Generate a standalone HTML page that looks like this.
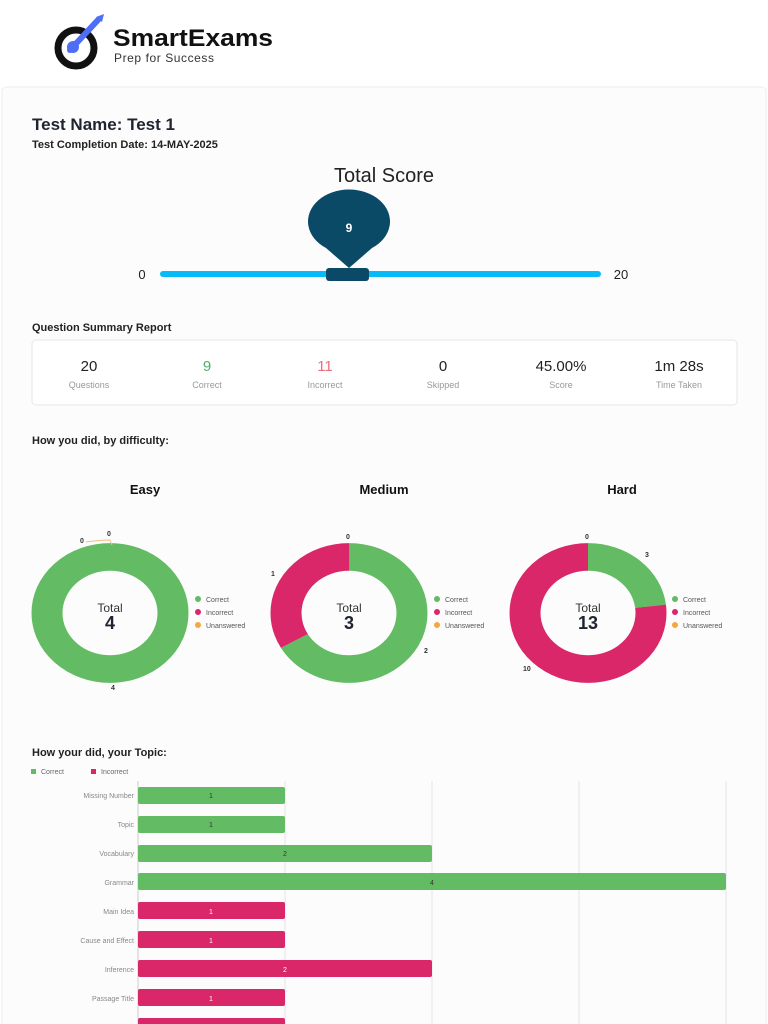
<!DOCTYPE html>
<html><head><meta charset="utf-8"><style>
html,body{margin:0;padding:0;background:#fff;width:768px;height:1024px;overflow:hidden;font-family:"Liberation Sans",sans-serif}
</style></head><body>
<svg width="768" height="1024" viewBox="0 0 768 1024" xmlns="http://www.w3.org/2000/svg" font-family="Liberation Sans, sans-serif">
<rect x="2" y="87" width="764" height="960" rx="4" fill="#fcfcfc" stroke="#eeeeee"/>
<circle cx="76" cy="48" r="18" fill="none" stroke="#111" stroke-width="7"/>
<path d="M70 50 L98 20" stroke="#4f6ef7" stroke-width="6" stroke-linecap="round"/>
<circle cx="73" cy="47" r="6" fill="#4f6ef7"/>
<path d="M96 17 l8 -3 l-2 8 z" fill="#4f6ef7"/>
<text x="113" y="46" font-size="24" font-weight="bold" fill="#111" textLength="160" lengthAdjust="spacingAndGlyphs">SmartExams</text>
<text x="114" y="62" font-size="12" fill="#333" textLength="100">Prep for Success</text>
<text x="32" y="130" font-size="17" font-weight="bold" fill="#1e2430">Test Name: Test 1</text>
<text x="32" y="148" font-size="11" font-weight="bold" fill="#222">Test Completion Date: 14-MAY-2025</text>
<text x="384" y="182" font-size="20" text-anchor="middle" fill="#222">Total Score</text>
<rect x="160" y="271" width="441" height="6" rx="3" fill="#06bbf7"/>
<text x="142" y="279" font-size="13" text-anchor="middle" fill="#222">0</text>
<text x="621" y="279" font-size="13" text-anchor="middle" fill="#222">20</text>
<path d="M349 268 L326 248 A41 32 0 1 1 372 248 Z" fill="#0b4a66"/>
<text x="349" y="232" font-size="12" font-weight="bold" text-anchor="middle" fill="#fff">9</text>
<rect x="326" y="268" width="43" height="13" rx="3" fill="#0b4a66"/>
<text x="32" y="331" font-size="11" font-weight="bold" fill="#222">Question Summary Report</text>
<rect x="32" y="340" width="705" height="65" rx="4" fill="#fff" stroke="#e6e6e6"/>
<g font-size="15" text-anchor="middle" fill="#222">
<text x="89" y="371">20</text><text x="207" y="371" fill="#4caf6a">9</text><text x="325" y="371" fill="#e8707c">11</text><text x="443" y="371">0</text><text x="561" y="371">45.00%</text><text x="679" y="371">1m 28s</text></g>
<g font-size="9" text-anchor="middle" fill="#999">
<text x="89" y="388">Questions</text><text x="207" y="388">Correct</text><text x="325" y="388">Incorrect</text><text x="443" y="388">Skipped</text><text x="561" y="388">Score</text><text x="679" y="388">Time Taken</text></g>
<text x="32" y="444" font-size="11" font-weight="bold" fill="#222">How you did, by difficulty:</text>
<g font-size="13" font-weight="bold" text-anchor="middle" fill="#111">
<text x="145" y="494">Easy</text><text x="384" y="494">Medium</text><text x="622" y="494">Hard</text></g>
<g transform="translate(110,613) scale(1,0.89)"><circle r="63" fill="none" stroke="#63bb63" stroke-width="31"/></g>
<g transform="translate(349,613) scale(1,0.89) rotate(-90)"><circle r="63" fill="none" stroke="#63bb63" stroke-width="31" stroke-dasharray="263.9 400"/><circle r="63" fill="none" stroke="#d9276a" stroke-width="31" stroke-dasharray="0 263.9 131.9 10"/></g>
<g transform="translate(588,613) scale(1,0.89) rotate(-90)"><circle r="63" fill="none" stroke="#63bb63" stroke-width="31" stroke-dasharray="91.3 400"/><circle r="63" fill="none" stroke="#d9276a" stroke-width="31" stroke-dasharray="0 91.3 304.5 10"/></g>
<g text-anchor="middle" fill="#333"><text x="110" y="612" font-size="12">Total</text><text x="110" y="629" font-size="18" font-weight="bold" fill="#1e2430">4</text>
<text x="349" y="612" font-size="12">Total</text><text x="349" y="629" font-size="18" font-weight="bold" fill="#1e2430">3</text>
<text x="588" y="612" font-size="12">Total</text><text x="588" y="629" font-size="18" font-weight="bold" fill="#1e2430">13</text></g>
<g font-size="7" font-weight="bold" fill="#333">
<text x="80" y="543">0</text><text x="107" y="536">0</text><path d="M86 542 Q100 540 110 540 L112 545" stroke="#f0c080" fill="none"/>
<text x="111" y="690">4</text>
<text x="346" y="539">0</text><text x="271" y="576">1</text><text x="424" y="653">2</text>
<text x="585" y="539">0</text><text x="645" y="557">3</text><text x="523" y="671">10</text></g>
<g font-size="7" fill="#555">
<circle cx="198" cy="599" r="3" fill="#63bb63"/><text x="206" y="602">Correct</text>
<circle cx="198" cy="612" r="3" fill="#d9276a"/><text x="206" y="615">Incorrect</text>
<circle cx="198" cy="625" r="3" fill="#f5a742"/><text x="206" y="628">Unanswered</text>
<circle cx="437" cy="599" r="3" fill="#63bb63"/><text x="445" y="602">Correct</text>
<circle cx="437" cy="612" r="3" fill="#d9276a"/><text x="445" y="615">Incorrect</text>
<circle cx="437" cy="625" r="3" fill="#f5a742"/><text x="445" y="628">Unanswered</text>
<circle cx="675" cy="599" r="3" fill="#63bb63"/><text x="683" y="602">Correct</text>
<circle cx="675" cy="612" r="3" fill="#d9276a"/><text x="683" y="615">Incorrect</text>
<circle cx="675" cy="625" r="3" fill="#f5a742"/><text x="683" y="628">Unanswered</text></g>
<text x="32" y="756" font-size="11" font-weight="bold" fill="#222">How your did, your Topic:</text>
<g font-size="7" fill="#666"><rect x="31" y="769" width="5" height="5" fill="#63bb63"/><text x="41" y="774">Correct</text>
<rect x="91" y="769" width="5" height="5" fill="#d9276a"/><text x="101" y="774">Incorrect</text></g>
<g stroke="#e4e4e4" stroke-width="1"><line x1="285" y1="781" x2="285" y2="1024"/><line x1="432" y1="781" x2="432" y2="1024"/><line x1="579" y1="781" x2="579" y2="1024"/><line x1="726" y1="781" x2="726" y2="1024"/></g>
<line x1="138" y1="781" x2="138" y2="1024" stroke="#ccc"/>
<g>
<rect x="138" y="787" width="147" height="17" rx="2" fill="#63bb63"/>
<rect x="138" y="816" width="147" height="17" rx="2" fill="#63bb63"/>
<rect x="138" y="845" width="294" height="17" rx="2" fill="#63bb63"/>
<rect x="138" y="873" width="588" height="17" rx="2" fill="#63bb63"/>
<rect x="138" y="902" width="147" height="17" rx="2" fill="#d9276a"/>
<rect x="138" y="931" width="147" height="17" rx="2" fill="#d9276a"/>
<rect x="138" y="960" width="294" height="17" rx="2" fill="#d9276a"/>
<rect x="138" y="989" width="147" height="17" rx="2" fill="#d9276a"/>
<rect x="138" y="1018" width="147" height="17" rx="2" fill="#d9276a"/>
</g>
<g font-size="7" fill="#888" text-anchor="end">
<text x="134" y="798">Missing Number</text><text x="134" y="827">Topic</text><text x="134" y="856">Vocabulary</text><text x="134" y="885">Grammar</text><text x="134" y="914">Main Idea</text><text x="134" y="943">Cause and Effect</text><text x="134" y="972">Inference</text><text x="134" y="1001">Passage Title</text></g>
<g font-size="7" text-anchor="middle">
<text x="211" y="798" fill="#333">1</text><text x="211" y="827" fill="#333">1</text><text x="285" y="856" fill="#333">2</text><text x="432" y="885" fill="#333">4</text>
<text x="211" y="914" fill="#fff">1</text><text x="211" y="943" fill="#fff">1</text><text x="285" y="972" fill="#fff">2</text><text x="211" y="1001" fill="#fff">1</text></g>
</svg>
</body></html>
